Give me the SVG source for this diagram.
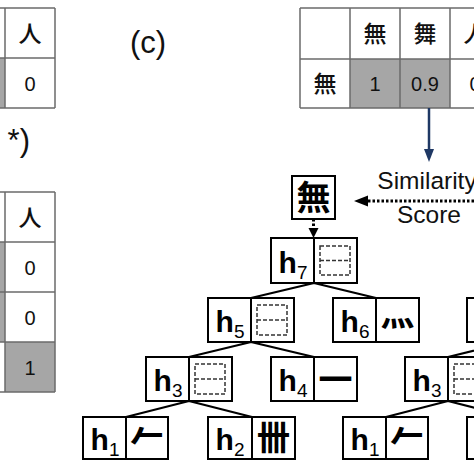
<svg xmlns="http://www.w3.org/2000/svg" width="474" height="474" viewBox="0 0 474 474">
<style>
.bg{fill:#ffffff}
.cell{fill:none;stroke:#6b6b6b;stroke-width:1.5}
.gray{fill:#a6a6a6}
.tc{font-family:"Noto Sans CJK JP","Noto Sans CJK SC",sans-serif;font-size:23px;font-weight:500;text-anchor:middle;fill:#111}
.tn{font-family:"Liberation Sans",Arial,sans-serif;font-size:20px;text-anchor:middle;fill:#111}
.lbl{font-family:"Liberation Sans",Arial,sans-serif;font-size:31px;fill:#111}
.sim{font-family:"Liberation Sans",Arial,sans-serif;font-size:24.5px;text-anchor:middle;fill:#111}
.box{fill:#ffffff;stroke:#000;stroke-width:2}
.h{font-family:"Liberation Sans",Arial,sans-serif;font-size:30px;font-weight:bold;text-anchor:middle;fill:#000}
.sub{font-size:19px;font-weight:normal}
.comp{font-family:"Noto Sans CJK JP","Noto Sans CJK SC",sans-serif;font-size:34px;font-weight:bold;text-anchor:middle;fill:#000}
.dash{fill:none;stroke:#333;stroke-width:1.5;stroke-dasharray:4 2}
.edge{stroke:#000;stroke-width:2.2;fill:none}
.div{stroke:#000;stroke-width:2}
</style>
<rect class="bg" x="0" y="0" width="474" height="474"/>

<!-- top-left table (partial) -->
<g id="tableA">
<rect class="gray" x="0" y="58" width="5" height="50"/>
<path class="cell" d="M0,8 H55 M0,58 H55 M0,108 H55 M5,8 V108 M55,8 V108"/>
<text class="tc" x="30" y="42">人</text>
<text class="tn" x="30" y="91">0</text>
</g>
<text id="labelB" class="lbl" x="30" y="151" text-anchor="end">*)</text>

<!-- second left table (partial) -->
<g id="tableB">
<rect class="gray" x="0" y="242" width="5" height="100"/>
<rect class="gray" x="5" y="342" width="50" height="50"/>
<path class="cell" d="M0,192 H55 M0,242 H55 M0,292 H55 M0,342 H55 M0,392 H55 M5,192 V392 M55,192 V392"/>
<text class="tc" x="30" y="226">人</text>
<text class="tn" x="30" y="275">0</text>
<text class="tn" x="30" y="325">0</text>
<text class="tn" x="30" y="375">1</text>
</g>

<text id="labelC" class="lbl" x="130" y="53">(c)</text>

<!-- top-right similarity table -->
<g id="tableC">
<rect class="gray" x="350" y="59" width="100" height="49"/>
<path class="cell" d="M300,8 H474 M300,59 H474 M300,108 H474 M300,8 V108 M350,8 V108 M400,8 V108 M450,8 V108"/>
<text class="tc" x="375" y="42">無</text>
<text class="tc" x="425" y="42">舞</text>
<text class="tc" x="475" y="42">人</text>
<text class="tc" x="325" y="92">無</text>
<text class="tn" x="375" y="91">1</text>
<text class="tn" x="425" y="91">0.9</text>
<text class="tn" x="475" y="91">0</text>
</g>

<!-- connectors -->
<g id="connectors">
<line x1="429" y1="108" x2="429" y2="151" stroke="#1f3864" stroke-width="2.5"/>
<path d="M424,149 L434,149 L429,162 Z" fill="#1f3864"/>
<line x1="474" y1="201" x2="368" y2="201" stroke="#000" stroke-width="3" stroke-dasharray="2.5 2"/>
<path d="M354,201 L368,195.5 L368,206.5 Z" fill="#000"/>
<line x1="313.5" y1="219" x2="313.5" y2="228" stroke="#000" stroke-width="3" stroke-dasharray="2.5 2"/>
<path d="M308.5,228 L318.5,228 L313.5,238 Z" fill="#000"/>
<path class="edge" d="M314,283 L251,298 M314,283 L376,298"/>
<path class="edge" d="M251,342 L189,357 M251,342 L314,357"/>
<path class="edge" d="M189,401 L126,417 M189,401 L252,417"/>
<path class="edge" d="M448,357 L510,342 M448,401 L386,417 M448,401 L510,417"/>
</g>

<text class="sim" x="427" y="188.5">Similarity</text>
<text class="sim" x="429" y="223">Score</text>

<!-- query character -->
<g id="query">
<rect class="box" x="292" y="176" width="43" height="43"/>
<text class="comp" x="313.5" y="210">無</text>
</g>

<!-- tree nodes -->
<g id="h7">
<rect class="box" x="271" y="238" width="86" height="45"/>
<line class="div" x1="314" y1="238" x2="314" y2="283"/>
<text class="h" x="293" y="273">h<tspan class="sub" dy="6">7</tspan></text>
<rect class="dash" x="320" y="246" width="30" height="29"/>
<line class="dash" x1="320" y1="260.5" x2="350" y2="260.5"/>
</g>

<g id="h5">
<rect class="box" x="208" y="298" width="86" height="44"/>
<line class="div" x1="251" y1="298" x2="251" y2="342"/>
<text class="h" x="230" y="332">h<tspan class="sub" dy="6">5</tspan></text>
<rect class="dash" x="257" y="305" width="30" height="30"/>
<line class="dash" x1="257" y1="320" x2="287" y2="320"/>
</g>

<g id="h6">
<rect class="box" x="333" y="298" width="86" height="44"/>
<line class="div" x1="376" y1="298" x2="376" y2="342"/>
<text class="h" x="355" y="332">h<tspan class="sub" dy="6">6</tspan></text>
<text class="comp" x="397.5" y="326">灬</text>
</g>

<g id="nodeR1">
<rect class="box" x="467" y="298" width="86" height="44"/>
</g>

<g id="h3a">
<rect class="box" x="146" y="357" width="86" height="44"/>
<line class="div" x1="189" y1="357" x2="189" y2="401"/>
<text class="h" x="168" y="391">h<tspan class="sub" dy="6">3</tspan></text>
<rect class="dash" x="195" y="364" width="30" height="30"/>
<line class="dash" x1="195" y1="379" x2="225" y2="379"/>
</g>

<g id="h4">
<rect class="box" x="271" y="357" width="86" height="44"/>
<line class="div" x1="314" y1="357" x2="314" y2="401"/>
<text class="h" x="293" y="391">h<tspan class="sub" dy="6">4</tspan></text>
<text class="comp" x="335.5" y="392">一</text>
</g>

<g id="h3b">
<rect class="box" x="405" y="357" width="86" height="44"/>
<line class="div" x1="448" y1="357" x2="448" y2="401"/>
<text class="h" x="427" y="391">h<tspan class="sub" dy="6">3</tspan></text>
<rect class="dash" x="454" y="364" width="30" height="30"/>
<line class="dash" x1="454" y1="379" x2="484" y2="379"/>
</g>

<g id="h1a">
<rect class="box" x="83" y="417" width="85" height="42"/>
<line class="div" x1="126" y1="417" x2="126" y2="459"/>
<text class="h" x="105" y="450">h<tspan class="sub" dy="6">1</tspan></text>
<text class="comp" x="147" y="450">𠂉</text>
</g>

<g id="h2">
<rect class="box" x="208" y="417" width="87" height="42"/>
<line class="div" x1="252" y1="417" x2="252" y2="459"/>
<text class="h" x="230" y="450">h<tspan class="sub" dy="6">2</tspan></text>
<text class="comp" x="273.5" y="450">卌</text>
</g>

<g id="h1b">
<rect class="box" x="343" y="417" width="85" height="42"/>
<line class="div" x1="386" y1="417" x2="386" y2="459"/>
<text class="h" x="365" y="450">h<tspan class="sub" dy="6">1</tspan></text>
<text class="comp" x="407" y="450">𠂉</text>
</g>

<g id="nodeR2">
<rect class="box" x="467" y="417" width="86" height="42"/>
</g>
</svg>
